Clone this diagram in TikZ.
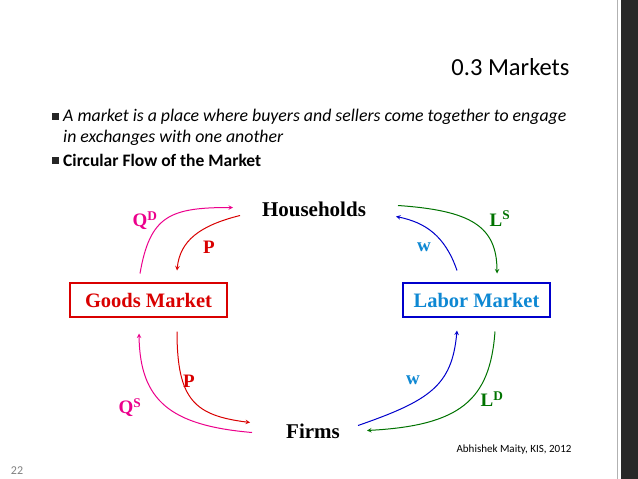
\documentclass[tikz,border=0pt]{standalone}
\usepackage{fontspec}
\setmainfont{Liberation Serif}
\newfontfamily\calfont{Carlito}
\definecolor{bandc}{RGB}{40,40,40}
\begin{document}
\begin{tikzpicture}[x=1pt,y=-1pt,
 lbl/.style={font=\bfseries\fontsize{19}{19}\selectfont},
 box/.style={draw,line width=1.2pt,minimum width=#1,minimum height=34,inner sep=0,font=\bfseries\fontsize{20.5}{20.5}\selectfont},
 bul/.style={fill=black!85,minimum size=7,inner sep=0},
 arr/.style={-stealth,line width=1pt}]
\fill[white] (0,0) rectangle (638,478);
\draw[gray!60,line width=1pt] (617,0) -- (617,478);
\fill[bandc] (621,0) rectangle (638,478);
\useasboundingbox (0,0) rectangle (638,478);
\node[anchor=east,font=\calfont\fontsize{24.5}{24.5}\selectfont] (title) at (573,67) {0.3 Markets};
\node[bul] (b1) at (55,116) {};
\node[bul] (b3) at (55,160) {};
\node[anchor=west,inner xsep=0,font=\calfont\itshape\fontsize{17.8}{17.8}\selectfont] (t1) at (63,116) {A market is a place where buyers and sellers come together to engage};
\node[anchor=west,inner xsep=0,font=\calfont\itshape\fontsize{17.8}{17.8}\selectfont] (t2) at (63,137) {in exchanges with one another};
\node[anchor=west,inner xsep=0,font=\calfont\bfseries\fontsize{17.5}{17.5}\selectfont] (t3) at (63,160) {Circular Flow of the Market};
\node[font=\calfont\fontsize{11}{11}\selectfont,anchor=east] (cr) at (575,449) {Abhishek Maity, KIS, 2012};
\node[font=\calfont\fontsize{12}{12}\selectfont,text=gray] (pg) at (17,470) {22};
\node[text=black,font=\bfseries\fontsize{21}{21}\selectfont] (hh) at (314,209) {Households};
\node[text=black,font=\bfseries\fontsize{21}{21}\selectfont] (ff) at (313,431) {Firms};
\node[box=157,draw=red!85!black,text=red!85!black] (gm) at (148.5,299.5) {Goods Market};
\node[box=147,draw=blue!80!black,text=cyan!70!blue] (lm) at (476.5,299.5) {Labor Market};
\coordinate (a1) at (140,273); \coordinate (a2) at (233,207);
\draw[arr,magenta] (a1) .. controls (150,215) and (170,207) .. (a2);
\coordinate (p1) at (240,215); \coordinate (p2) at (177,270);
\draw[arr,red!85!black] (p1) .. controls (200,225) and (180,240) .. (p2);
\coordinate (q1) at (252,432); \coordinate (q2) at (139,333);
\draw[arr,magenta] (q1) .. controls (170,425) and (140,400) .. (q2);
\coordinate (r1) at (177,331); \coordinate (r2) at (250,422);
\draw[arr,red!85!black] (r1) .. controls (177,400) and (195,415) .. (r2);
\coordinate (g1) at (398,205); \coordinate (g2) at (497,273);
\draw[arr,green!45!black] (g1) .. controls (470,210) and (497,225) .. (g2);
\coordinate (w1) at (457,270); \coordinate (w2) at (396,216);
\draw[arr,blue!80!black] (w1) .. controls (445,235) and (425,222) .. (w2);
\coordinate (v1) at (358,425); \coordinate (v2) at (457,330);
\draw[arr,blue!80!black] (v1) .. controls (430,400) and (452,385) .. (v2);
\coordinate (l1) at (495,331); \coordinate (l2) at (367,430);
\draw[arr,green!45!black] (l1) .. controls (490,400) and (460,425) .. (l2);
\node[lbl,text=magenta] (qd) at (145,220) {Q\textsuperscript{D}};
\node[lbl,text=red!85!black] (pt) at (209,247) {P};
\node[lbl,text=red!85!black] (pb) at (189,381) {P};
\node[lbl,text=magenta] (qs) at (130,407) {Q\textsuperscript{S}};
\node[lbl,text=green!45!black] (ls) at (500,218) {L\textsuperscript{S}};
\node[lbl,text=green!45!black] (ld) at (492,399) {L\textsuperscript{D}};
\node[lbl,text=cyan!70!blue] (wt) at (424,247) {w};
\node[lbl,text=cyan!70!blue] (wb) at (413,380) {w};
\end{tikzpicture}
\end{document}
